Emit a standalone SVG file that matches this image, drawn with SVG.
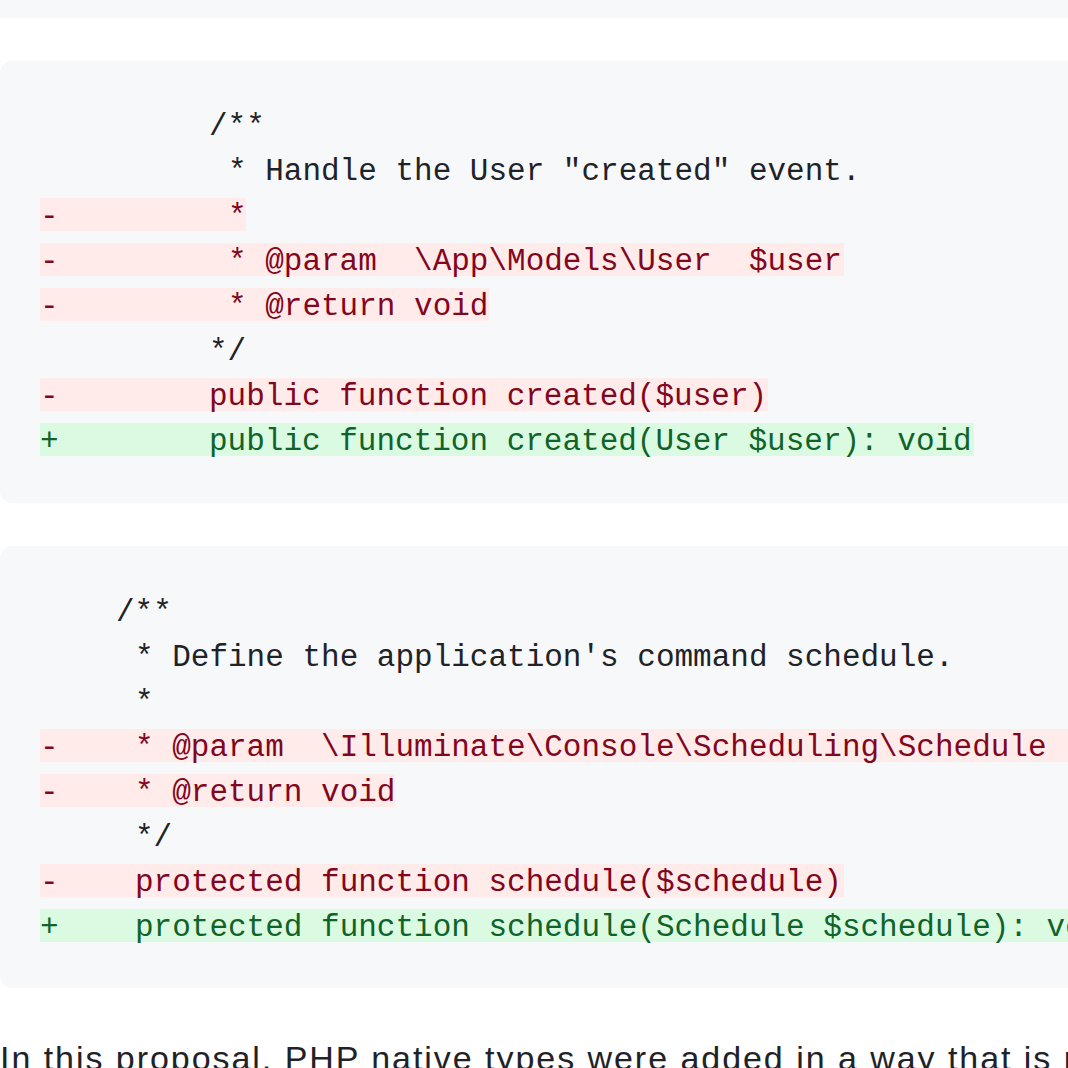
<svg xmlns="http://www.w3.org/2000/svg" width="1068" height="1068" viewBox="0 0 1068 1068">
<style>
.blk{fill:#f6f8fa}
.c{font-family:"Liberation Mono","DejaVu Sans Mono",monospace;font-size:31px;white-space:pre;fill:#1f2328}
.d{fill:#82071e}.a{fill:#116329}
.rd{fill:#ffebe9}.gr{fill:#dafbe1}
.p{font-family:"Liberation Sans",Arial,sans-serif;font-size:34px;fill:#1f2328}
</style>
<rect width="1068" height="1068" fill="#ffffff"/>
<rect class="blk" x="-20" y="-40" width="1120" height="58" rx="12"/>
<g id="block1">
<rect class="blk" x="0" y="61" width="1100" height="442" rx="12"/>
<rect class="rd" x="40" y="198" width="206" height="33"/>
<rect class="rd" x="40" y="243" width="804" height="33"/>
<rect class="rd" x="40" y="288" width="449" height="33"/>
<rect class="rd" x="40" y="378" width="728" height="33"/>
<rect class="gr" x="40" y="423" width="934" height="33"/>
<text class="c" x="209" y="135">/**</text>
<text class="c" x="228" y="180">* Handle the User "created" event.</text>
<text class="c d" x="40" y="225">-</text><text class="c d" x="228" y="225">*</text>
<text class="c d" x="40" y="270">-</text><text class="c d" x="228" y="270">* @param  \App\Models\User  $user</text>
<text class="c d" x="40" y="315">-</text><text class="c d" x="228" y="315">* @return void</text>
<text class="c" x="209" y="360">*/</text>
<text class="c d" x="40" y="405">-</text><text class="c d" x="209" y="405">public function created($user)</text>
<text class="c a" x="40" y="450">+</text><text class="c a" x="209" y="450">public function created(User $user): void</text>
</g>
<g id="block2">
<rect class="blk" x="0" y="546" width="1100" height="442" rx="12"/>
<rect class="rd" x="40" y="729" width="1040" height="33"/>
<rect class="rd" x="40" y="774" width="355" height="33"/>
<rect class="rd" x="40" y="864" width="804" height="33"/>
<rect class="gr" x="40" y="909" width="1040" height="33"/>
<text class="c" x="116" y="621">/**</text>
<text class="c" x="135" y="666">* Define the application's command schedule.</text>
<text class="c" x="135" y="711">*</text>
<text class="c d" x="40" y="756">-</text><text class="c d" x="135" y="756">* @param  \Illuminate\Console\Scheduling\Schedule  $schedule</text>
<text class="c d" x="40" y="801">-</text><text class="c d" x="135" y="801">* @return void</text>
<text class="c" x="135" y="846">*/</text>
<text class="c d" x="40" y="891">-</text><text class="c d" x="135" y="891">protected function schedule($schedule)</text>
<text class="c a" x="40" y="936">+</text><text class="c a" x="135" y="936">protected function schedule(Schedule $schedule): void</text>
</g>
<text class="p" x="0" y="1070" textLength="1075" lengthAdjust="spacing">In this proposal, PHP native types were added in a way that is r</text>
</svg>
